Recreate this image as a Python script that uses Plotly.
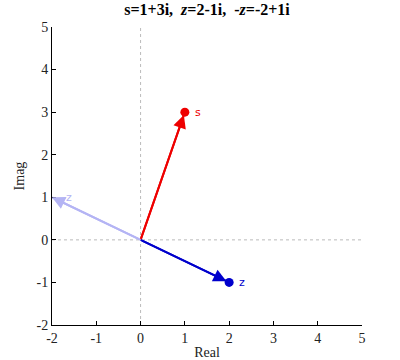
import plotly.graph_objects as go

names = ["s", "z", "-z"]
re_vals = [1, 2, -2]
im_vals = [3, -1, 1]
colors = ["#EE0000", "#0000CC", "#B4B4F4"]
show_dot = [True, True, False]
x_ticks = [-2, -1, 0, 1, 2, 3, 4, 5]
y_ticks = [-2, -1, 0, 1, 2, 3, 4, 5]
tick_text = [str(v) for v in x_ticks]

SERIF = "Liberation Serif"

fig = go.Figure()

# zero guide lines
fig.add_trace(go.Scatter(x=[0, 0], y=[-2, 5], mode="lines",
                         line=dict(color="#BBBBBB", width=1, dash="3px,3px"),
                         hoverinfo="skip", showlegend=False))
fig.add_trace(go.Scatter(x=[-2, 5], y=[0, 0], mode="lines",
                         line=dict(color="#BBBBBB", width=1, dash="3px,3px"),
                         hoverinfo="skip", showlegend=False))

for n, xr, yi, c, d in zip(names, re_vals, im_vals, colors, show_dot):
    fig.add_trace(go.Scatter(x=[0, xr], y=[0, yi], mode="lines",
                             line=dict(color=c, width=2), showlegend=False))
    fig.add_annotation(x=xr, y=yi, ax=0, ay=0, xref="x", yref="y",
                       axref="x", ayref="y", showarrow=True, arrowhead=2,
                       arrowsize=1.3, arrowwidth=2, arrowcolor=c, text="",
                       standoff=3 if d else 0)
    if d:
        fig.add_trace(go.Scatter(x=[xr], y=[yi], mode="markers",
                                 marker=dict(color=c, size=9), showlegend=False))
    fig.add_annotation(x=xr, y=yi, xref="x", yref="y", text=n, showarrow=False,
                       xanchor="left", xshift=8,
                       font=dict(family="DejaVu Sans, Arial", size=11, color=c))

fig.update_layout(
    width=400, height=360,
    margin=dict(l=52, r=38, t=27, b=35, autoexpand=False),
    paper_bgcolor="white", plot_bgcolor="white",
    title=dict(text="<b>s=1+3i,  <i>z</i>=2-1i,  -<i>z</i>=-2+1i</b>",
               x=0.5175, xanchor="center", y=0.99, yanchor="top",
               font=dict(family=SERIF, size=16, color="black")),
    font=dict(family=SERIF, size=14, color="#222222"),
)
fig.update_xaxes(range=[-2, 5], tickvals=x_ticks, ticktext=tick_text,
                 ticks="inside", ticklen=4, automargin=False,
                 tickfont=dict(family=SERIF, size=14),
                 showgrid=False, zeroline=False, showline=True, linecolor="black",
                 linewidth=1, tickcolor="black",
                 title=dict(text="Real", standoff=2, font=dict(family=SERIF, size=14)))
fig.update_yaxes(range=[-2, 5], tickvals=y_ticks, ticktext=tick_text,
                 ticks="inside", ticklen=4, automargin=False,
                 tickfont=dict(family=SERIF, size=14),
                 showgrid=False, zeroline=False, showline=True, linecolor="black",
                 linewidth=1, tickcolor="black",
                 title=dict(text="Imag", standoff=8, font=dict(family=SERIF, size=14)))

fig.write_html("out.html")
